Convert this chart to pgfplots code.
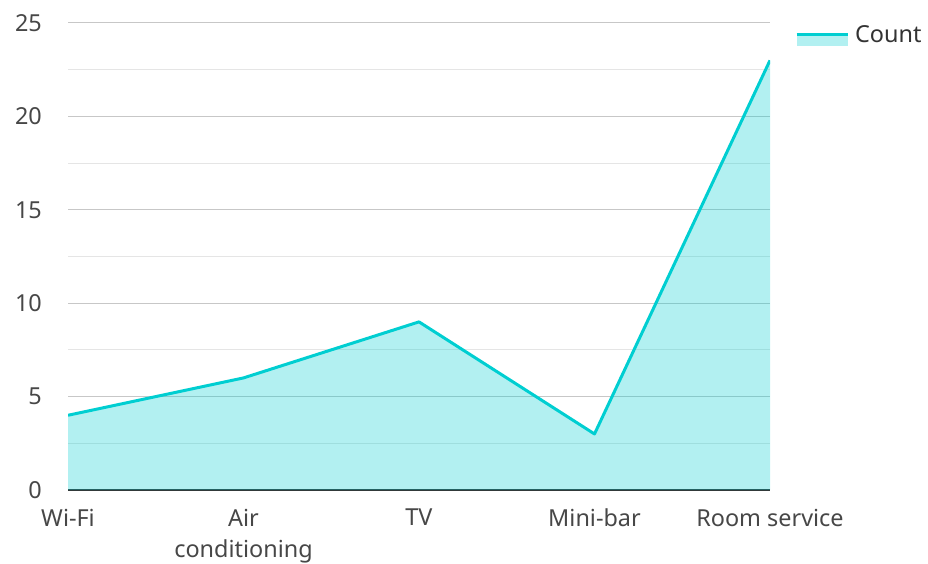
\documentclass[border=0pt]{standalone}
\usepackage{pgfplots}
\pgfplotsset{compat=1.18}
\usepackage{fontspec}
\setmainfont{Noto Sans}
\definecolor{teal1}{HTML}{00CED1}
\definecolor{tealfill}{HTML}{B2F0F1}
\definecolor{txt}{HTML}{333333}
\begin{document}
\begin{tikzpicture}
\useasboundingbox (-68bp,-74bp) rectangle (860bp,490bp);
\begin{axis}[
  at={(0,0)}, anchor=south west,
  scale only axis, width=702bp, height=467bp,
  xmin=0, xmax=4, ymin=0, ymax=25,
  xtick={0,1,2,3,4},
  xticklabels={Wi-Fi, Air\\conditioning, TV, Mini-bar, Room service},
  ytick={0,5,10,15,20,25},
  minor ytick={2.5,7.5,12.5,17.5,22.5},
  ymajorgrids, yminorgrids,
  major grid style={color=black!22, line width=1bp},
  minor grid style={color=black!10, line width=1bp},
  axis lines*=left,
  axis line style={-},
  y axis line style={draw=none},
  x axis line style={draw=txt, line width=2bp},
  major tick length=0pt, minor tick length=0pt,
  tick style={draw=none},
  /pgf/number format/assume math mode=true,
  ticklabel style={font=\fontsize{23.5}{31}\selectfont, text=txt!90, inner sep=0pt},
  xticklabel style={align=center, anchor=north},
  yticklabel style={anchor=east},
  xticklabel shift=19bp,
  yticklabel shift=26bp,
  legend style={draw=none, fill=none, at={(1.0356,0.996)}, anchor=north west,
    font=\fontsize{23.5}{28}\selectfont, text=txt, inner sep=0pt,
    nodes={inner sep=0pt}},
  legend image code/.code={
    \path[fill=tealfill, draw=none] (0bp,-11.5bp) rectangle (51bp,-1bp);
    \path[draw=teal1, line width=3bp] (0bp,0bp) -- (51bp,0bp);
    \path (57bp,0bp);
  },
]
\addplot[draw=none, fill=teal1, fill opacity=0.3, forget plot]
  coordinates {(0,4) (1,6) (2,9) (3,3) (4,23)} \closedcycle;
\addplot[draw=teal1, line width=3bp, line join=round]
  coordinates {(0,4) (1,6) (2,9) (3,3) (4,23)};
\addlegendentry{Count}
\end{axis}
\end{tikzpicture}
\end{document}
